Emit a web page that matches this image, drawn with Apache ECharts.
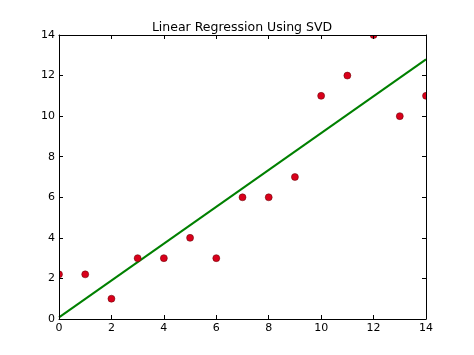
<!DOCTYPE html>
<html>
<head>
<meta charset="utf-8">
<script src="https://cdn.jsdelivr.net/npm/echarts@6/dist/echarts.min.js"></script>
<style>html,body{margin:0;padding:0;background:#fff;}#c{width:474px;height:355px;}</style>
</head>
<body>
<div id="c"></div>
<script>
var titleText = 'Linear Regression Using SVD';
var pointX = [0, 1, 2, 3, 4, 5, 6, 7, 8, 9, 10, 11, 12, 13, 14];
var pointY = [2.2, 2.2, 1, 3, 3, 4, 3, 6, 6, 7, 11, 12, 14, 10, 11];
var lineX = [0, 14];
var lineY = [0.08, 12.8];
var tickLabels = [0, 2, 4, 6, 8, 10, 12, 14];

var font = 'DejaVu Sans';
var chart = echarts.init(document.getElementById('c'), null, {renderer: 'canvas'});
function ax(extra) {
  var base = {
    type: 'value', min: 0, max: 14, interval: 2,
    axisLine: {show: true, onZero: false, lineStyle: {color: '#000', width: 1}},
    axisTick: {show: true, inside: true, length: 4, lineStyle: {color: '#000', width: 1}},
    splitLine: {show: false},
    axisLabel: {show: true, color: '#000', fontFamily: font, fontSize: 11, margin: 4,
      formatter: function (v) { return tickLabels.indexOf(v) >= 0 ? String(v) : ''; }},
    z: 10
  };
  return Object.assign(base, extra);
}

chart.setOption({
  animation: false,
  backgroundColor: '#fff',
  title: {text: titleText, top: 21, left: 242, textAlign: 'center', padding: 0,
    textStyle: {fontFamily: font, fontSize: 12.5, fontWeight: 'normal', color: '#000'}},
  grid: {left: 59, right: 48, top: 35, bottom: 36, containLabel: false},
  xAxis: [ax({position: 'bottom'}), ax({position: 'top', axisLabel: {show: false}})],
  yAxis: [ax({position: 'left'}), ax({position: 'right', axisLabel: {show: false}})],
  series: [
    {
      type: 'line', xAxisIndex: 0, yAxisIndex: 0,
      data: lineX.map(function (x, i) { return [x, lineY[i]]; }),
      showSymbol: false, symbol: 'none',
      lineStyle: {color: '#008000', width: 2}, z: 2
    },
    {
      type: 'custom', xAxisIndex: 0, yAxisIndex: 0, clip: true, z: 3,
      data: pointX.map(function (x, i) { return [x, pointY[i]]; }),
      renderItem: function (params, api) {
        var p = api.coord([api.value(0), api.value(1)]);
        return {type: 'circle', shape: {cx: p[0], cy: p[1], r: 3.5},
          style: {fill: '#d9001b', stroke: '#5a0000', lineWidth: 0.5}};
      }
    }
  ]
});
</script>
</body>
</html>
